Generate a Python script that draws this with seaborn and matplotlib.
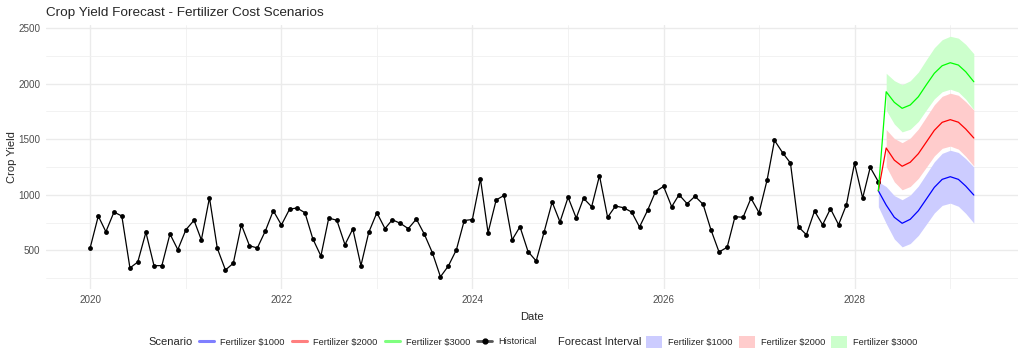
import numpy as np
import pandas as pd
import matplotlib
matplotlib.use("Agg")
import matplotlib.pyplot as plt
import matplotlib.dates as mdates
from matplotlib.lines import Line2D
from matplotlib.patches import Patch
from matplotlib.ticker import FixedLocator
import seaborn as sns

# monthly history, Jan 2020 - Apr 2028
hist_start = "2020-01-01"
hist_values = [
    523, 808, 667, 844, 808, 341, 395, 662, 362, 362, 647, 506,
    685, 770, 593, 973, 518, 323, 383, 730, 541, 521, 676, 856,
    728, 869, 881, 838, 604, 449, 790, 770, 551, 692, 362, 662,
    838, 695, 775, 742, 695, 781, 647, 479, 262, 358, 505, 768,
    777, 1142, 658, 953, 993, 594, 712, 488, 404, 662, 934, 755,
    977, 790, 968, 892, 1171, 797, 898, 883, 844, 710, 860, 1027,
    1075, 892, 1000, 919, 986, 914, 685, 485, 527, 802, 797, 968,
    838, 1135, 1489, 1378, 1285, 710, 640, 853, 730, 874, 730, 910,
    1282, 970, 1246, 1117,
]

# forecast, May 2028 - Apr 2029 (starting from an anchor at Apr 2028)
anchor_date = "2028-04-01"
anchor_value = 1035
anchor_band = (892, 1117)
fc_1000 = [907, 797, 743, 779, 856, 959, 1066, 1138, 1162, 1138, 1078, 997]
fc_2000 = [1420, 1311, 1256, 1292, 1369, 1472, 1579, 1651, 1675, 1652, 1591, 1510]
fc_3000 = [1926, 1831, 1777, 1807, 1881, 1987, 2092, 2160, 2187, 2166, 2106, 2016]
band_half = [166, 195, 212, 218, 222, 226, 230, 234, 238, 242, 246, 252]

scenarios = ["Fertilizer $1000", "Fertilizer $2000", "Fertilizer $3000"]
line_colors = ["#0000FF", "#FF0000", "#00FF00"]
fill_colors = ["#CCCCFF", "#FFCCCC", "#CCFFCC"]
key_colors = ["#7F7FFF", "#FF7F7F", "#7FFF7F"]

hist = pd.DataFrame({
    "Date": pd.date_range(hist_start, periods=len(hist_values), freq="MS"),
    "Yield": hist_values,
})
fc_dates = pd.date_range(anchor_date, periods=len(fc_1000) + 1, freq="MS")
rows = []
for name, vals in zip(scenarios, [fc_1000, fc_2000, fc_3000]):
    for d, v in zip(fc_dates, [anchor_value] + vals):
        rows.append({"Date": d, "Yield": v, "Scenario": name})
fc = pd.DataFrame(rows)

sns.set_theme(style="white")
plt.rcParams["font.family"] = ["Liberation Sans", "DejaVu Sans"]

fig = plt.figure(figsize=(10.24, 3.62), dpi=100)
ax = fig.add_axes([46 / 1024, 1 - 289 / 362, (1018 - 46) / 1024, (289 - 24.7) / 362])

# ribbons
for i, (name, vals) in enumerate(zip(scenarios, [fc_1000, fc_2000, fc_3000])):
    lo = np.array(vals) - np.array(band_half)
    hi = np.array(vals) + np.array(band_half)
    d = fc_dates[1:]
    if i == 0:
        d = fc_dates
        lo = np.r_[anchor_band[0], lo]
        hi = np.r_[anchor_band[1], hi]
    ax.fill_between(d, lo, hi, color=fill_colors[i], lw=0, zorder=1)

sns.lineplot(data=hist, x="Date", y="Yield", color="black", lw=0.9,
             marker="o", markersize=3.5, markeredgewidth=0, ax=ax, zorder=3)
sns.lineplot(data=fc, x="Date", y="Yield", hue="Scenario", hue_order=scenarios,
             palette=line_colors, lw=0.9, ax=ax, legend=False, zorder=4)

span = hist["Date"].iloc[0], fc_dates[-1]
pad = (span[1] - span[0]) * 0.05
ax.set_xlim(span[0] - pad, span[1] + pad)
ax.set_ylim(152, 2529)

ax.xaxis.set_major_locator(mdates.YearLocator(2))
ax.xaxis.set_major_formatter(mdates.DateFormatter("%Y"))
ax.xaxis.set_minor_locator(FixedLocator(
    [mdates.date2num(pd.Timestamp(f"{y}-01-01")) for y in range(2021, 2030, 2)]))
ax.set_yticks([500, 1000, 1500, 2000, 2500])
ax.set_yticks([250, 750, 1250, 1750, 2250], minor=True)

ax.grid(which="major", color="#EBEBEB", lw=1.0)
ax.grid(which="minor", color="#F0F0F0", lw=0.6)
ax.set_axisbelow(True)
for s in ax.spines.values():
    s.set_visible(False)
ax.tick_params(which="both", length=0, labelsize=7.1, labelcolor="#4D4D4D", pad=4)

ax.set_xlabel("Date", fontsize=8, labelpad=5)
ax.set_ylabel("Crop Yield", fontsize=8, labelpad=1)

fig.text(46 / 1024, 1 - 16 / 362, "Crop Yield Forecast - Fertilizer Cost Scenarios",
         fontsize=9.7, va="baseline", ha="left")

# legends
ly = 1 - 342 / 362
h1 = [Line2D([], [], color=c, lw=2.2) for c in key_colors]
h1.append(Line2D([], [], color="#555555", lw=2, marker="o", markersize=3.5,
                 markerfacecolor="black", markeredgecolor="black"))
fig.legend(h1, scenarios + ["Historical"], loc="center left",
           bbox_to_anchor=(199 / 1024, ly), ncol=4, frameon=False, fontsize=6.7,
           handlelength=1.6, handletextpad=0.65, columnspacing=0.8,
           borderpad=0, borderaxespad=0)
fig.text(148 / 1024, ly, "Scenario", fontsize=8, va="center")

h2 = [Patch(facecolor=c, edgecolor="none") for c in fill_colors]
fig.legend(h2, scenarios, loc="center left",
           bbox_to_anchor=(646 / 1024, ly), ncol=3, frameon=False, fontsize=6.7,
           handlelength=1.72, handleheight=1.72, handletextpad=0.65,
           columnspacing=0.65, borderpad=0, borderaxespad=0)
fig.text(558 / 1024, ly, "Forecast Interval", fontsize=8, va="center")

fig.savefig("out.png", dpi=100)
